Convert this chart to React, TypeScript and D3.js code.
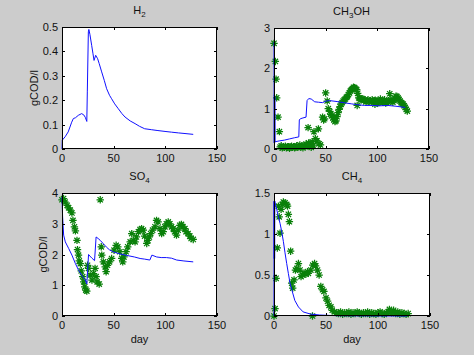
import React from "react";
import * as d3 from "d3";

// ---------- data ----------
const xTicks = [0, 50, 100, 150];

// H2 (simulated)
const h2Days = [0, 0.3, 1, 3, 6, 9.4, 11, 13, 15.8, 19, 21, 22.5, 24, 24.5, 25.5, 26, 27, 28.7, 30, 31, 32.6, 34.5, 36, 38.4, 41, 43.2, 46, 48, 51, 54.5, 58, 61, 66, 70.7, 75, 80, 86.8, 92, 99.7, 106, 112.6, 120, 127];
const h2Vals = [0, 0.036, 0.04, 0.05, 0.07, 0.11, 0.125, 0.128, 0.138, 0.145, 0.14, 0.13, 0.113, 0.234, 0.48, 0.49, 0.47, 0.425, 0.39, 0.363, 0.384, 0.37, 0.35, 0.316, 0.28, 0.247, 0.22, 0.206, 0.185, 0.165, 0.145, 0.131, 0.115, 0.104, 0.093, 0.083, 0.079, 0.076, 0.072, 0.069, 0.066, 0.063, 0.06];

// CH3OH simulated
const ch3ohSimDays = [0, 0.2, 0.4, 0.6, 0.8, 1, 5, 10, 15, 20, 24, 24.5, 25.5, 28, 31, 32, 33.6, 36, 39.4, 43, 47, 50.6, 53.8, 60, 67, 74.8, 80, 87.7, 95, 102, 110, 118, 127];
const ch3ohSimVals = [2.65, 0.15, 1.35, 0.15, 1.3, 0.18, 0.2, 0.22, 0.25, 0.28, 0.3, 0.72, 0.75, 0.77, 0.79, 1.2, 1.25, 1.24, 1.17, 1.16, 1.15, 1.19, 1.2, 1.18, 1.15, 1.12, 1.1, 1.08, 1.08, 1.07, 1.08, 1.06, 1.03];
// CH3OH measured
const ch3ohObsDays = [0, 1.3, 2, 2.6, 3.9, 5.2, 6, 7, 8, 9, 10, 11, 12, 13, 14, 15, 16, 17, 18, 19, 20, 21, 22, 23, 24, 25, 26, 27, 28, 29, 30, 31, 32, 33, 33.5, 34, 35, 36, 37, 38, 38.7, 40, 41.6, 43, 43.7, 45, 47, 48, 49, 50, 51.5, 52.5, 54, 55, 56, 57, 58, 59, 60, 61, 62, 63, 64, 65, 66, 67, 68, 69, 70, 71, 72, 73, 74, 75, 76, 77, 78, 79, 80, 80.5, 81, 82, 83, 84, 85, 86, 87, 88, 89, 90, 91, 92, 93, 94, 95, 96, 97, 97.7, 98, 99, 100, 101, 102, 103, 104, 105, 106, 107, 108, 109, 110, 111, 112, 113, 114, 115, 116, 117, 118, 119, 120, 121, 122, 123, 124, 125, 126, 127, 128, 129];
const ch3ohObsVals = [2.62, 2.17, 1.73, 1.27, 0.79, 0.43, 0.05, 0.08, 0.03, 0.06, 0.04, 0.07, 0.03, 0.05, 0.06, 0.02, 0.05, 0.07, 0.04, 0.06, 0.03, 0.05, 0.08, 0.04, 0.06, 0.1, 0.05, 0.07, 0.03, 0.09, 0.06, 0.12, 0.08, 0.53, 0.15, 0.13, 0.1, 0.04, 0.18, 0.08, 0.43, 0.26, 0.2, 0.5, 0.13, 0.1, 0.79, 0.72, 0.75, 1.39, 1.19, 1.0, 0.93, 0.86, 0.83, 0.77, 0.72, 0.68, 0.7, 0.8, 0.9, 0.98, 1.05, 1.12, 1.15, 1.19, 1.22, 1.24, 1.28, 1.3, 1.35, 1.39, 1.44, 1.47, 1.5, 1.53, 1.52, 1.49, 1.47, 1.08, 1.38, 1.27, 1.26, 1.22, 1.25, 1.24, 1.2, 1.22, 1.17, 1.19, 1.22, 1.18, 1.2, 1.16, 1.22, 1.19, 1.17, 1.11, 1.21, 1.19, 1.14, 1.15, 1.2, 1.24, 1.18, 1.16, 1.19, 1.22, 1.14, 1.15, 1.18, 1.2, 1.37, 1.22, 1.19, 1.16, 1.2, 1.26, 1.31, 1.3, 1.27, 1.23, 1.19, 1.15, 1.13, 1.11, 1.07, 1.03, 0.98, 0.94];

// SO4 simulated
const so4SimDays = [0, 0.6, 1.6, 3.2, 6.4, 9.6, 12.9, 16, 19, 22.5, 24, 25.7, 27, 29, 31.5, 33, 35, 37, 40, 43, 46, 50, 56, 62.7, 70, 75.6, 80, 85, 87, 91.6, 96, 101, 106, 111, 118, 127];
const so4SimVals = [3.87, 3.22, 2.63, 2.41, 2.2, 1.98, 1.71, 1.49, 1.33, 1.17, 1.04, 2.0, 1.95, 1.88, 1.8, 2.57, 2.52, 2.46, 2.35, 2.24, 2.15, 2.08, 2.02, 1.97, 1.92, 1.87, 1.85, 1.82, 1.98, 1.92, 1.9, 1.9, 1.88, 1.82, 1.79, 1.76];
// SO4 measured
const so4ObsDays = [0, 1.5, 3, 5, 6.4, 8, 9.6, 10.6, 12, 13, 14.5, 15, 16, 16.7, 17.7, 18.6, 20, 21, 22, 23, 24, 24.7, 25.7, 27.3, 29, 30.5, 32, 33, 34, 36, 37, 38, 38.5, 40, 41.8, 42.7, 44, 46, 48, 50.4, 52.4, 54, 56, 57.8, 58.8, 60, 62, 63.6, 66, 67.5, 69, 70.7, 72, 74, 75.5, 77, 78.7, 80, 82, 83, 84.5, 85.8, 87.7, 90, 91.5, 93, 94.8, 96.4, 98, 99.6, 101, 102.8, 104.4, 106, 107.6, 109, 110.8, 112.4, 114, 115.6, 117, 118.9, 120, 122, 123.7, 125, 127];
const so4ObsVals = [3.78, 3.82, 3.7, 3.6, 3.52, 3.44, 3.35, 3.11, 2.9, 2.77, 2.46, 2.16, 1.98, 1.79, 1.7, 1.47, 1.28, 1.11, 0.95, 0.84, 0.81, 1.65, 1.55, 1.33, 1.17, 1.38, 1.55, 1.28, 1.11, 1.04, 3.78, 2.25, 1.98, 1.76, 1.6, 1.44, 1.65, 1.76, 1.87, 2.14, 2.3, 2.25, 2.09, 1.87, 1.76, 1.92, 2.09, 2.25, 2.41, 2.68, 2.46, 2.41, 2.57, 2.74, 2.81, 2.84, 2.79, 2.6, 2.36, 2.46, 2.57, 2.68, 2.79, 2.9, 3.11, 3.06, 2.84, 2.68, 2.74, 2.9, 3.0, 3.06, 3.0, 2.9, 2.84, 2.74, 2.63, 2.79, 2.95, 2.98, 2.9, 2.84, 2.74, 2.68, 2.6, 2.52, 2.49];

// CH4 simulated
const ch4SimDays = [0, 0, 0.2, 0.4, 0.6, 0.8, 1, 2.6, 4.2, 5.8, 7.4, 9, 10.6, 12.2, 13.8, 15.4, 18, 20, 23.5, 28, 35, 44, 60, 80, 100, 128];
const ch4SimVals = [0, 1.4, 0.7, 1.4, 0.7, 1.4, 1.38, 1.3, 1.21, 1.13, 1.03, 0.91, 0.77, 0.64, 0.52, 0.4, 0.28, 0.19, 0.11, 0.05, 0.024, 0.012, 0.004, 0.002, 0.001, 0];
// CH4 measured
const ch4ObsDays = [0, 1, 2, 3.2, 4.2, 5, 5.8, 6.8, 8, 9, 10.6, 12.2, 13, 13.8, 14.8, 16, 17, 18, 19.3, 20.6, 22, 23.5, 25, 26, 27.4, 29, 30.6, 32.2, 33, 35.4, 37, 37.3, 39, 40, 41.8, 43.4, 45, 46.7, 48, 50, 51.5, 53, 54.7, 56, 58, 60.5, 62, 64, 66, 68, 70, 72, 74, 76, 78, 80, 82, 84, 86, 88, 90, 92, 94, 96, 98, 100, 102, 104, 106, 108, 110, 111, 113, 115, 117, 119, 121, 123, 125, 127, 129];
const ch4ObsVals = [0, 0.09, 0.46, 0.83, 1.34, 1.21, 1.01, 1.3, 1.36, 1.39, 1.38, 1.36, 1.34, 1.24, 1.15, 0.79, 0.4, 0.34, 0.44, 0.56, 0.58, 0.64, 0.56, 0.48, 0.5, 0.52, 0.51, 0.54, 0.52, 0.56, 0, 0.62, 0.64, 0.61, 0.56, 0.5, 0.36, 0.32, 0.3, 0.22, 0.18, 0.13, 0.11, 0.07, 0.05, 0.04, 0.03, 0.05, 0.02, 0.04, 0.03, 0.05, 0.02, 0.04, 0.03, 0.05, 0.04, 0.02, 0.04, 0.03, 0.05, 0.02, 0.04, 0.03, 0.02, 0.04, 0.05, 0.03, 0.02, 0.04, 0.05, 0.08, 0.04, 0.07, 0.03, 0.05, 0.02, 0.04, 0.03, 0.02, 0.03];

// ---------- layout ----------
type Panel = {
  left: number; right: number; top: number; bottom: number;
  yMax: number; yTicks: number[];
  title: [string, string, string];
  ylabel: boolean; xlabel: boolean;
  simX: number[]; simY: number[];
  obsX?: number[]; obsY?: number[];
  ylabelX: number;
};

const panels: Panel[] = [
  { left: 62, right: 217, top: 27, bottom: 149, yMax: 0.5, yTicks: [0, 0.1, 0.2, 0.3, 0.4, 0.5], title: ["H", "2", ""], ylabel: true, xlabel: false, simX: h2Days, simY: h2Vals, ylabelX: 38 },
  { left: 274, right: 429, top: 28, bottom: 149, yMax: 3, yTicks: [0, 1, 2, 3], title: ["CH", "3", "OH"], ylabel: false, xlabel: false, simX: ch3ohSimDays, simY: ch3ohSimVals, obsX: ch3ohObsDays, obsY: ch3ohObsVals, ylabelX: 0 },
  { left: 62, right: 217, top: 193, bottom: 316, yMax: 4, yTicks: [0, 1, 2, 3, 4], title: ["SO", "4", ""], ylabel: true, xlabel: true, simX: so4SimDays, simY: so4SimVals, obsX: so4ObsDays, obsY: so4ObsVals, ylabelX: 46.5 },
  { left: 274, right: 430, top: 193, bottom: 316, yMax: 1.5, yTicks: [0, 0.5, 1, 1.5], title: ["CH", "4", ""], ylabel: false, xlabel: true, simX: ch4SimDays, simY: ch4SimVals, obsX: ch4ObsDays, obsY: ch4ObsVals, ylabelX: 0 },
];

const FONT = "'Liberation Sans', Arial, Helvetica, sans-serif";
const TICK = 3;
const R = 3.7;
const starPath = `M${-R},0L${R},0M0,${-R}L0,${R}M${-R * 0.72},${-R * 0.72}L${R * 0.72},${R * 0.72}M${-R * 0.72},${R * 0.72}L${R * 0.72},${-R * 0.72}`;

function PanelView({ p }: { p: Panel }) {
  const x = d3.scaleLinear().domain([0, 150]).range([p.left, p.right]);
  const y = d3.scaleLinear().domain([0, p.yMax]).range([p.bottom, p.top]);
  const line = d3.line<number>().x((_, i) => x(p.simX[i])).y((v) => y(v));
  const cx = (p.left + p.right) / 2;
  const fmt = (v: number) => d3.format("~g")(v);
  return (
    <g>
      <rect x={p.left} y={p.top} width={p.right - p.left} height={p.bottom - p.top} fill="#fff" />
      {p.obsX && p.obsY && p.obsX.map((d, i) => (
        <path key={i} d={starPath} transform={`translate(${x(d)},${y(p.obsY![i])})`} stroke="#0a800a" strokeWidth={1.25} fill="none" />
      ))}
      <path d={line(p.simY) || ""} fill="none" stroke="#1010ff" strokeWidth={1} strokeLinejoin="round" />
      <rect x={p.left + 0.5} y={p.top + 0.5} width={p.right - p.left - 1} height={p.bottom - p.top - 1} fill="none" stroke="#000" strokeWidth={1} />
      {xTicks.map((t) => (
        <g key={"x" + t}>
          <line x1={Math.round(x(t)) + 0.5} x2={Math.round(x(t)) + 0.5} y1={p.bottom} y2={p.bottom - TICK} stroke="#000" />
          <line x1={Math.round(x(t)) + 0.5} x2={Math.round(x(t)) + 0.5} y1={p.top} y2={p.top + TICK} stroke="#000" />
          <text x={x(t)} y={p.bottom + 13} textAnchor="middle" fontSize={11} fontFamily={FONT} fill="#111">{t}</text>
        </g>
      ))}
      {p.yTicks.map((t) => (
        <g key={"y" + t}>
          <line x1={p.left} x2={p.left + TICK} y1={Math.round(y(t)) + 0.5} y2={Math.round(y(t)) + 0.5} stroke="#000" />
          <line x1={p.right} x2={p.right - TICK} y1={Math.round(y(t)) + 0.5} y2={Math.round(y(t)) + 0.5} stroke="#000" />
          <text x={p.left - 4} y={y(t) + 4} textAnchor="end" fontSize={11} fontFamily={FONT} fill="#111">{fmt(t)}</text>
        </g>
      ))}
      <text x={cx} y={p.top - 13} textAnchor="middle" fontSize={11} fontFamily={FONT} fill="#111">
        {p.title[0]}
        <tspan fontSize={8} dy={3}>{p.title[1]}</tspan>
        {p.title[2] ? <tspan dy={-3}>{p.title[2]}</tspan> : null}
      </text>
      {p.ylabel && (
        <text transform={`translate(${p.ylabelX},${(p.top + p.bottom) / 2}) rotate(-90)`} textAnchor="middle" fontSize={11} fontFamily={FONT} fill="#111">gCOD/l</text>
      )}
      {p.xlabel && (
        <text x={cx} y={p.bottom + 27} textAnchor="middle" fontSize={11} fontFamily={FONT} fill="#111">day</text>
      )}
    </g>
  );
}

export default function App() {
  return (
    <div style={{ position: "fixed", left: 0, top: 0 }}>
      <svg width={474} height={355} style={{ display: "block" }}>
        <rect x={0} y={0} width={474} height={355} fill="#cccccc" />
        {panels.map((p, i) => <PanelView key={i} p={p} />)}
      </svg>
    </div>
  );
}
